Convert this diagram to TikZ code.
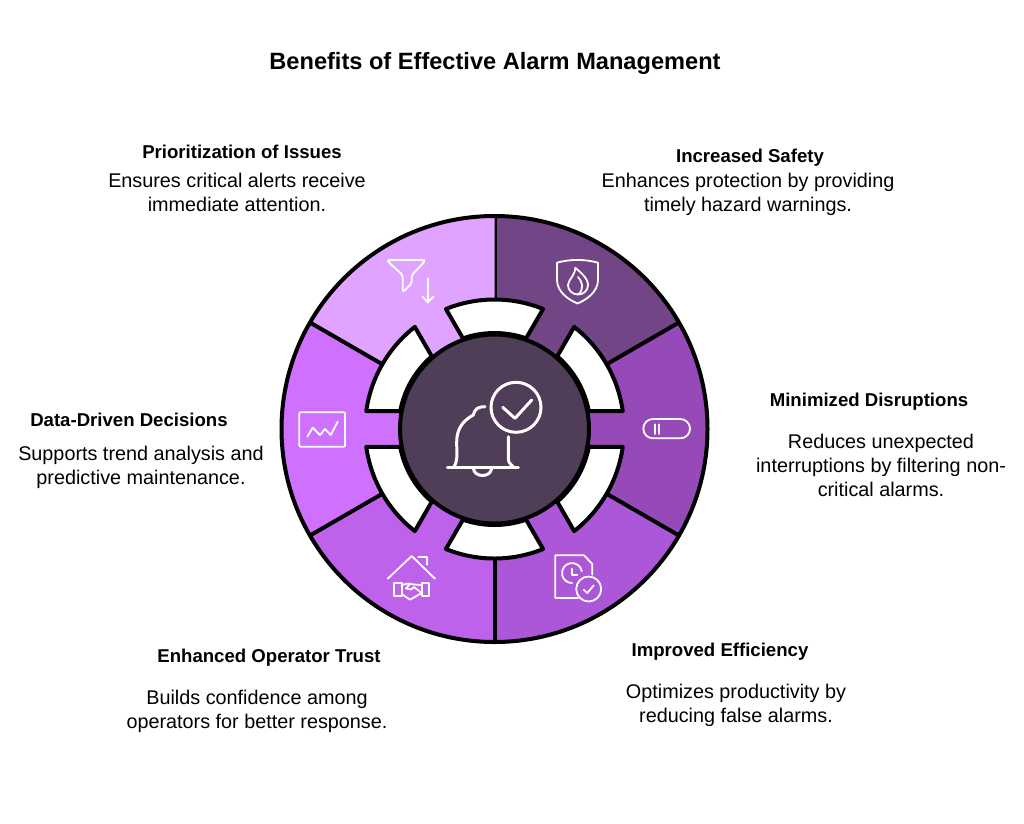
\documentclass[tikz,border=0pt]{standalone}
\usepackage{fontspec}
\setmainfont{Liberation Sans}
\usepackage{tikz}
\usetikzlibrary{positioning}
\definecolor{safetycol}{HTML}{714586}
\definecolor{disruptcol}{HTML}{964AB8}
\definecolor{efficol}{HTML}{AC56D8}
\definecolor{trustcol}{HTML}{BE62EC}
\definecolor{datacol}{HTML}{CF70FF}
\definecolor{prioritycol}{HTML}{E0A3FF}
\definecolor{hubcol}{HTML}{503D57}
\tikzset{
  head/.style={font=\fontsize{18.6}{24}\selectfont\bfseries, text=black, inner sep=0pt},
  body/.style={font=\fontsize{19.8}{24}\selectfont, text=black, align=center, inner sep=0pt},
  icon/.style={draw=white, line width=1.8pt, line join=round, line cap=round},
  bigicon/.style={draw=white, line width=3pt, line join=round, line cap=round},
  wheel/.style={draw=black, line width=4pt, line join=round}
}
\begin{document}
\begin{tikzpicture}[x=1pt,y=-1pt]
    \useasboundingbox (0,0) rectangle (1024,823);
    \node (title) [font=\fontsize{23.6}{28}\selectfont\bfseries, inner sep=0pt] at (495,63){Benefits of Effective Alarm Management};%title
    \begin{scope}[shift={(494.5,429)}, y=1pt]
      \foreach \ang/\col in {60/safetycol, 0/disruptcol, -60/efficol, -120/trustcol, 180/datacol, 120/prioritycol}{
        \fill[\col] (0,0) -- (\ang-30:213pt) arc[start angle=\ang-30, end angle=\ang+30, radius=213pt] -- cycle;%slice
        \draw[wheel] (\ang+30:130pt) -- (\ang+30:213pt);%divider
      }
      \draw[wheel] (0,0) circle (213pt);%outer ring
      \foreach \ang in {90,30,-30,-90,-150,150}{
        \draw[wheel, fill=white] (\ang-22.04:129.5pt) arc[start angle=\ang-22.04, end angle=\ang+22.04, radius=129.5pt] -- (\ang+19.2:96pt) arc[start angle=\ang+19.2, end angle=\ang-19.2, radius=96pt] -- cycle;%white piece
      }
    \end{scope}
    \node (hub) [circle, draw=black, line width=4pt, fill=hubcol, minimum size=189pt, inner sep=0pt] at (494.5,429){};%draws the hub
    \node (prioh) [head] at (242,152){Prioritization of Issues};
    \node (priob) [body, below=14pt of prioh.south, xshift=-5pt] {Ensures critical alerts receive\\immediate attention.};
    \node (safeh) [head] at (750,158){Increased Safety};
    \node (safeb) [body, below=6pt of safeh.south, xshift=-2pt] {Enhances protection by providing\\timely hazard warnings.};
    \node (disrh) [head] at (869,402){Minimized Disruptions};
    \node (disrb) [body, below=23pt of disrh.south, xshift=12pt] {Reduces unexpected\\interruptions by filtering non-\\critical alarms.};
    \node (datah) [head] at (129,420){Data-Driven Decisions};
    \node (datab) [body, below=19pt of datah.south, xshift=12pt] {Supports trend analysis and\\predictive maintenance.};
    \node (trusth) [head] at (269,658){Enhanced Operator Trust};
    \node (trustb) [body, below=23pt of trusth.south, xshift=-12pt] {Builds confidence among\\operators for better response.};
    \node (effih) [head] at (720,652){Improved Efficiency};
    \node (effib) [body, below=23pt of effih.south, xshift=16pt] {Optimizes productivity by\\reducing false alarms.};
    %bell and check on the hub
    \draw[bigicon] (516,407.3) circle (25pt);
    \draw[bigicon] (502.7,407.3) -- (515,418.3) -- (531.7,400);
    \draw[bigicon] (447.3,467.3) -- (518.3,467.3);
    \draw[bigicon] (473.3,468) .. controls (474,478) and (491,478) .. (491.7,468);
    \draw[bigicon] (454,466.7) .. controls (458,460) and (456.7,456) .. (456.7,441.7) .. controls (456.7,428) and (464,420) .. (473.3,415) .. controls (475,408) and (479,406.7) .. (485,406.7);
    \draw[bigicon] (508.3,436.7) -- (508.3,458.3) .. controls (508.3,462) and (510,464) .. (513.3,466.7);
    %shield
    \draw[icon] (557,262.7) .. controls (570,259) and (585,259) .. (598,262.7) -- (598,280) .. controls (598,292) and (586,300) .. (577.5,303.5) .. controls (569,300) and (557,292) .. (557,280) -- cycle;
    \draw[icon] (575.3,267.7) .. controls (580,272) and (588,278) .. (588,285) .. controls (588,291) and (583,294.5) .. (578,294.5) .. controls (572,294.5) and (568,290) .. (568,285) .. controls (568,280) and (575,276) .. (575.3,267.7);
    \draw[icon] (578,277) .. controls (582,281) and (585,289) .. (578,294.5);
    %pause pill
    \draw[icon, rounded corners=9.6pt] (643.3,419) rectangle (690,438.3);
    \draw[icon] (655,424.3) -- (655,434);
    \draw[icon] (659,424.3) -- (659,434);
    %chart
    \draw[icon, rounded corners=1pt] (299.3,412.3) rectangle (345,446.7);
    \draw[icon] (307.3,436.7) -- (312.7,427.7) -- (320,435) -- (325,429) -- (330.7,435) -- (337.7,421.7);
    %house and handshake
    \draw[icon] (387.7,578.7) -- (411.7,556) -- (435,578.7);
    \draw[icon] (418.3,557) -- (426.7,557) -- (426.7,564.7);
    \draw[icon] (394.3,583) rectangle (401.7,596.3);
    \draw[icon] (421.7,583) rectangle (429,596.3);
    \draw[icon] (401.7,585) -- (408,583.5) -- (414,584.5) -- (421.7,585);
    \draw[icon] (401.7,594) -- (410,599.7) -- (421.7,593);
    \draw[icon] (410,583.8) -- (406,588.5) -- (411,589.5) -- (414,587) -- (421.7,593);
    %document with clock and check
    \draw[icon] (592.3,574.7) -- (592.3,564) -- (584,555.3) -- (555.3,555.3) -- (555.3,598) -- (578,598);
    \draw[icon] (581.85,571.3) arc[start angle=10, end angle=270, radius=10pt];
    \draw[icon] (572,568.7) -- (572,574.7) -- (577.3,574.7);
    \draw[icon] (588.7,589) circle (12.5pt);
    \draw[icon] (583.7,589.7) -- (587.3,593) -- (593.7,585.3);
    %funnel and arrow
    \draw[icon, rounded corners=2pt] (388.3,260) -- (424.3,260) -- (424.3,262) -- (411.7,275) -- (411.7,283.3) -- (402.7,292.3) -- (402.7,275) -- (388.3,262) -- cycle;
    \draw[icon] (427.7,278.3) -- (427.7,302.3);
    \draw[icon] (422.7,296.7) -- (427.7,302.3) -- (433.3,296.7);
\end{tikzpicture}
\end{document}
